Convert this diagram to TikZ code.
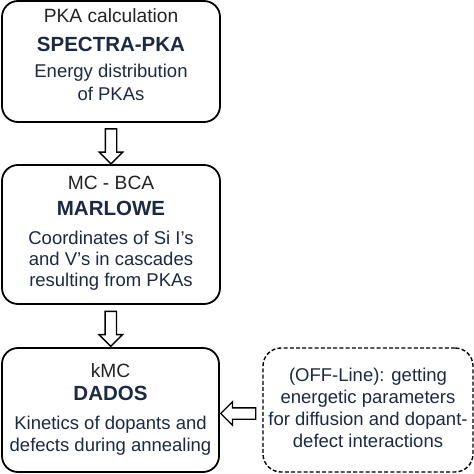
\documentclass[tikz,border=0pt]{standalone}
\usepackage{fontspec}
\setmainfont{Liberation Sans}
\usetikzlibrary{shapes.arrows,calc}
\definecolor{navy}{HTML}{1B2943}
\definecolor{darktext}{HTML}{222222}
\begin{document}
\begin{tikzpicture}[x=1pt, y=1pt,
    box/.style={draw, line width=1.8pt, rounded corners=16pt, inner sep=0pt},
    offline/.style={draw, line width=1.4pt, dash pattern=on 4pt off 2.2pt, rounded corners=18pt, inner sep=0pt},
    label/.style={anchor=base, inner sep=0pt, text=darktext, font=\fontsize{19.2}{22}\selectfont},
    title/.style={anchor=base, inner sep=0pt, text=navy, font=\fontsize{20.5}{24}\selectfont\bfseries},
    descr/.style={anchor=base, inner sep=0pt, align=center, text=navy, font=\fontsize{18.5}{22}\selectfont},
    blockarrow/.style={single arrow, draw, line width=1.4pt, fill=white, inner sep=5pt,
        single arrow head extend=6pt, minimum height=35pt}]
    \useasboundingbox (0,0) rectangle (474,-474);

    % Riquadri
    \node[box, minimum width=218, minimum height=121] (spectra) at (111,-61.5) {};
    \node[box, minimum width=218, minimum height=139] (marlowe) at (111,-234.5) {};
    \node[box, minimum width=217, minimum height=124] (dados) at (110.5,-410) {};
    \node[offline, minimum width=210, minimum height=124] (offline) at (368,-410) {};

    % Testi (base = ultima riga)
    \node[label] (spectralabel) at (111,-22.7) {PKA calculation};
    \node[title] (spectratitle) at (111,-51) {SPECTRA-PKA};
    \node[descr] (spectradescr) at (111,-100.7) {Energy distribution\\[1.4pt]of PKAs};

    \node[label] (marlowelabel) at (111,-189) {MC - BCA};
    \node[title] (marlowetitle) at (111,-215) {MARLOWE};
    \node[descr] (marlowedescr) at (111,-286) {Coordinates of Si I’s\\[-1pt]and V’s in cascades\\[-1pt]resulting from PKAs};

    \node[label] (dadoslabel) at (110.5,-377.7) {kMC};
    \node[title] (dadostitle) at (110.5,-400) {DADOS};
    \node[descr] (dadosdescr) at (110.5,-451.7) {Kinetics of dopants and\\defects during annealing};

    \node[descr] (offlinedescr) at (368,-447.7) {(OFF-Line): getting\\energetic parameters\\for diffusion and dopant-\\defect interactions};

    % Frecce
    \node[blockarrow, rotate=-90] (arrowA) at ($(spectra.south)!0.5!(marlowe.north)$) {};
    \node[blockarrow, rotate=-90] (arrowB) at ($(marlowe.south)!0.5!(dados.north)$) {};
    \node[blockarrow, rotate=180] (arrowC) at ($(offline.west)!0.5!(dados.east)+(0,-3.5)$) {};
\end{tikzpicture}
\end{document}
